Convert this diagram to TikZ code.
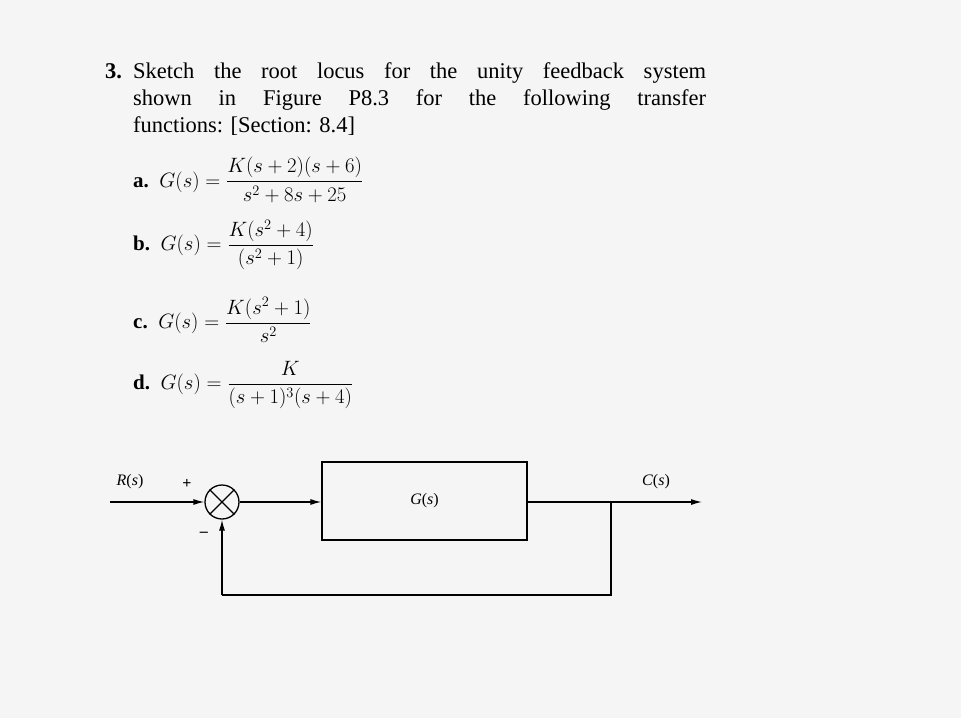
\documentclass[tikz,border=0pt]{standalone}
\usepackage{amsmath}
\usepackage{fontspec}
\setmainfont{Liberation Serif}
\usetikzlibrary{arrows.meta}
\tikzset{wire/.style={line width=1.3pt},arr/.style={wire,-{Latex[length=11pt,width=6pt]}},lbl/.style={font=\fontsize{16}{19}\selectfont}}
\begin{document}
\begin{tikzpicture}[x=1pt,y=-1pt]
\fill[black!4] (0,0) rectangle (961,718);
\useasboundingbox (0,0) rectangle (961,718);
\tikzset{tl/.style={anchor=base west,inner sep=0,font=\fontsize{22.5}{26}\selectfont}}
\node[tl] (num) at (105,78) {\bfseries 3.};
\node[tl] (l1) at (133,78) {\makebox[573pt][s]{Sketch the root locus for the unity feedback system}};
\node[tl] (l2) at (133,105) {\makebox[573pt][s]{shown in Figure P8.3 for the following transfer}};
\node[tl] (l3) at (133,132) {functions: [Section: 8.4]};
\tikzset{eq/.style={anchor=west,inner sep=0,font=\fontsize{21}{25}\selectfont}}
\node[eq] (a) at (133,180) {\textbf{a.}\enspace $G(s)=\dfrac{K(s+2)(s+6)}{s^2+8s+25}$};
\node[eq] (b) at (133,245) {\textbf{b.}\enspace $G(s)=\dfrac{K(s^2+4)}{(s^2+1)}$};
\node[eq] (c) at (133,320) {\textbf{c.}\enspace $G(s)=\dfrac{K(s^2+1)}{s^2}$};
\node[eq] (d) at (133,385) {\textbf{d.}\enspace $G(s)=\dfrac{K}{(s+1)^3(s+4)}$};
% block diagram
\coordinate (in) at (110,502);
\node[draw,wire,circle,minimum size=34pt,inner sep=0] (sum) at (222,502) {};
\draw[wire] (sum.north west) -- (sum.south east) (sum.north east) -- (sum.south west);
\node[draw,wire,minimum width=205pt,minimum height=78pt,inner sep=0] (G) at (424.5,501) {};
\node[lbl] (Gl) at (G) {\textit{G}(\textit{s})};
\coordinate (out) at (702,502);
\coordinate (br) at (611,502);
\coordinate (bb) at (611,595);
\coordinate (bl) at (222,595);
\draw[arr] (in) -- (sum);
\draw[arr] (sum) -- (G.west |- sum);
\draw[arr] (G.east |- sum) -- (out);
\draw[wire] (br) -- (bb) -- (bl);
\draw[arr] (bl) -- (sum.south);
\node[lbl] (R) at (130,482) {\textit{R}(\textit{s})};
\node[lbl] (C) at (656,482) {\textit{C}(\textit{s})};
\node[lbl] (p) at (187,484) {\textbf{+}};
\node[lbl] (m) at (204,534) {\textbf{–}};
\end{tikzpicture}
\end{document}
